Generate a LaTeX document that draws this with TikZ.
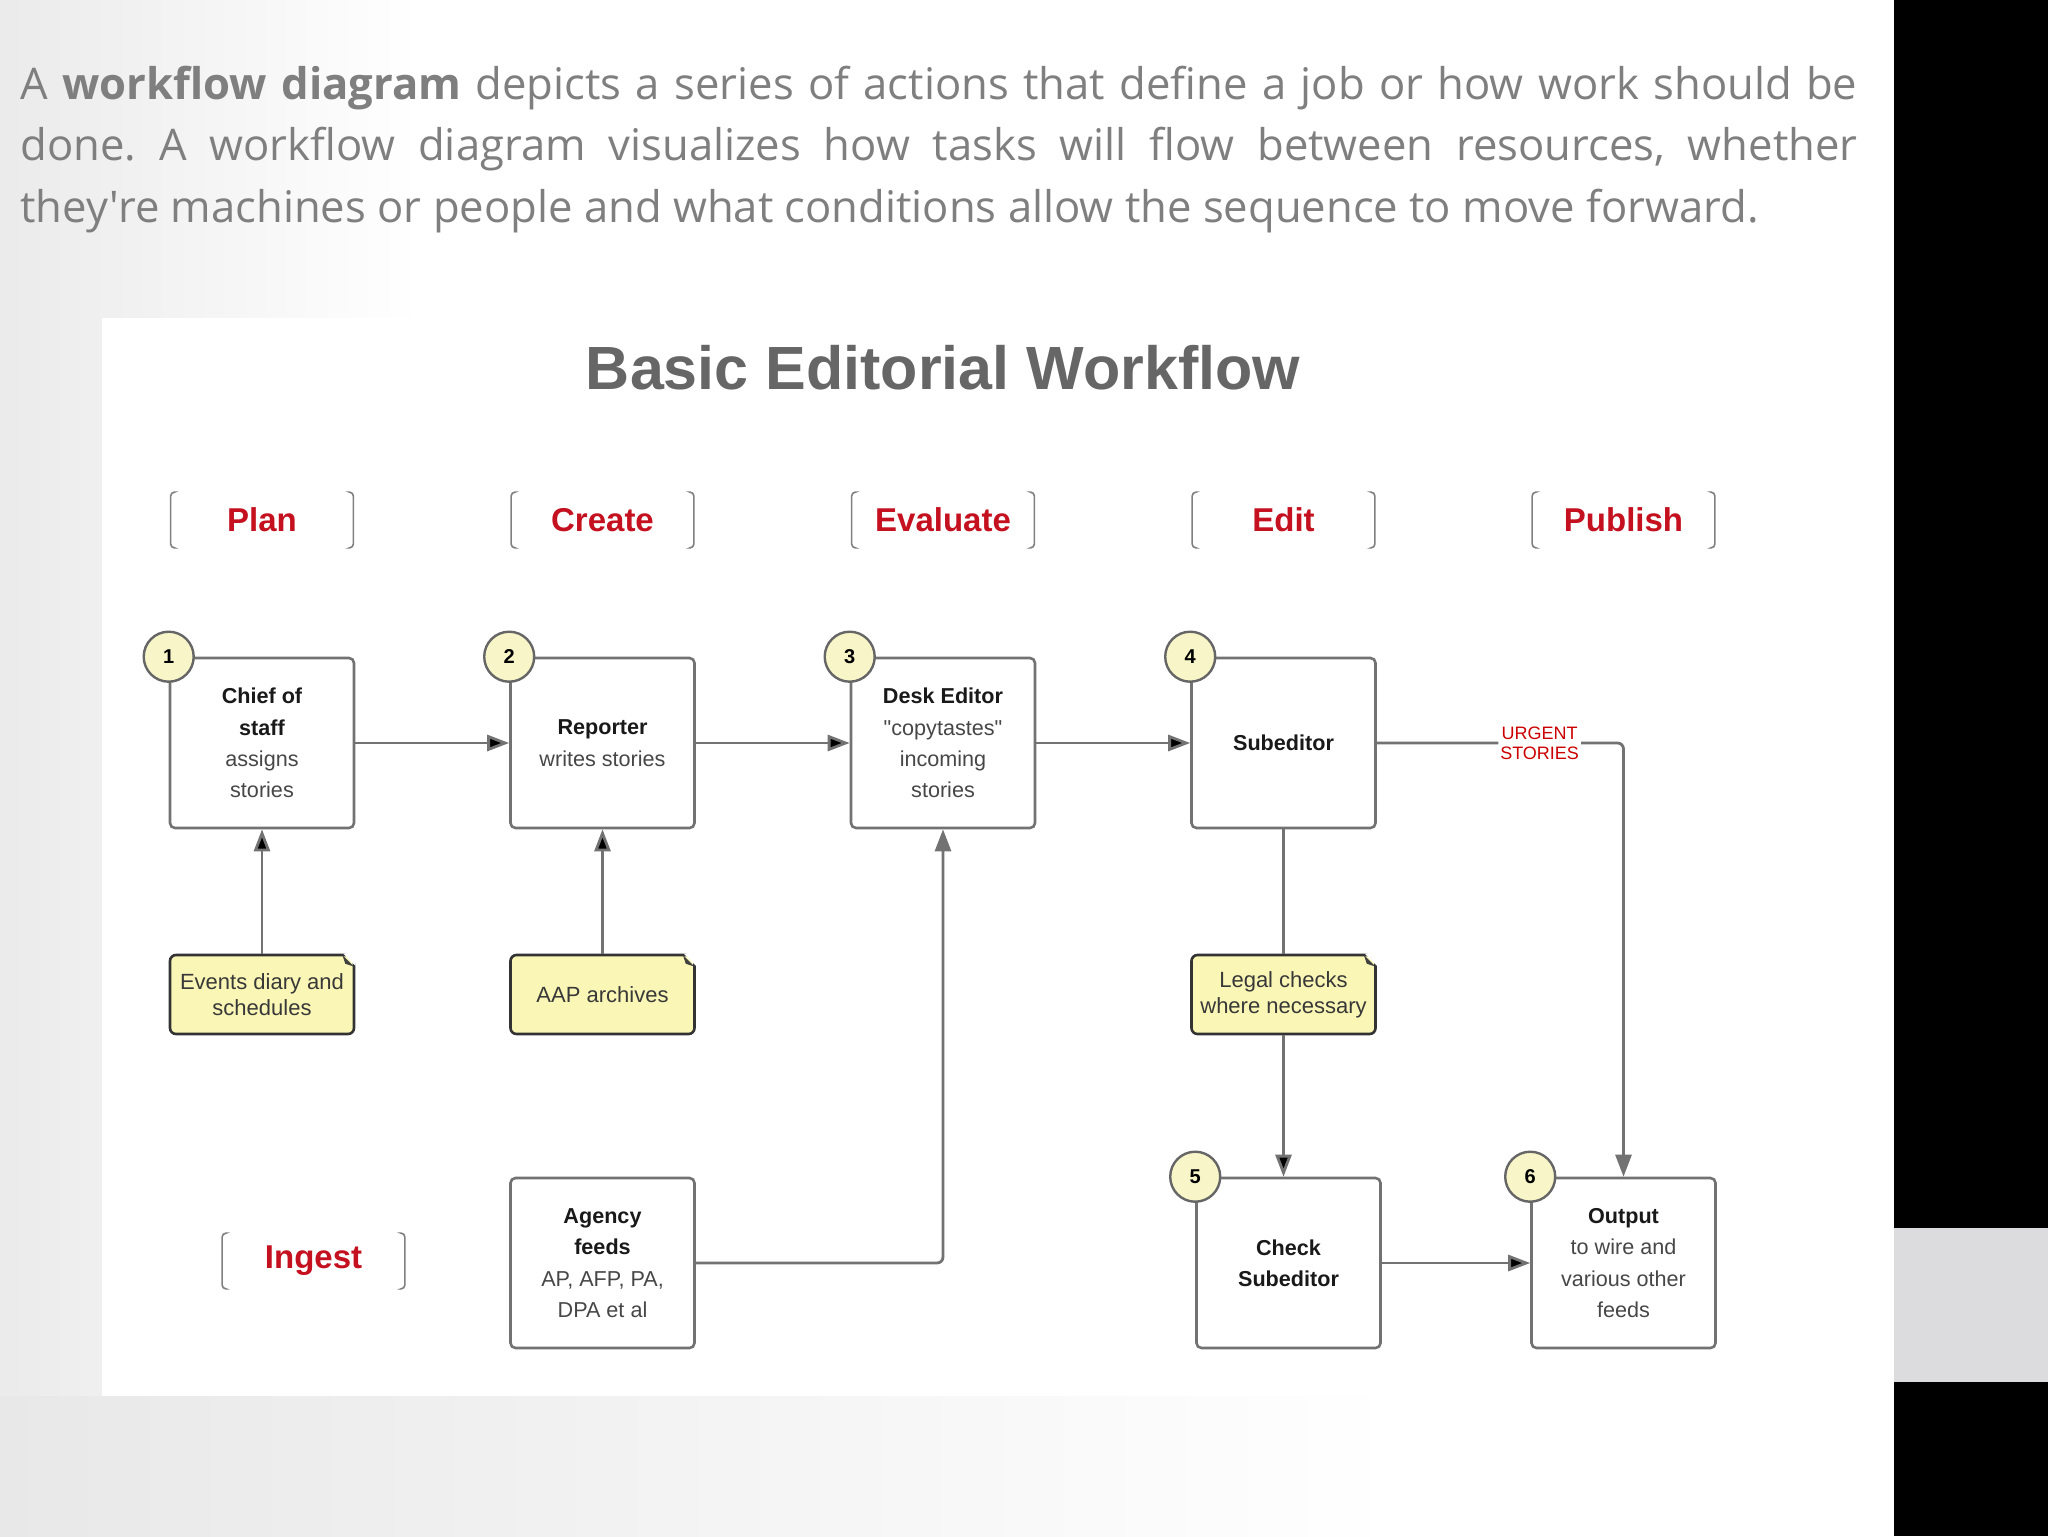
\documentclass[tikz,border=0pt]{standalone}
\usepackage{fontspec}
\setmainfont{Liberation Sans}
\newfontfamily\slidefont{Open Sans}
\usepackage{tikz}
\usetikzlibrary{arrows.meta,positioning}
\definecolor{linegray}{HTML}{727272}
\definecolor{phasered}{HTML}{C4101F}
\definecolor{noteyellow}{HTML}{FAF7B6}
\definecolor{numyellow}{HTML}{F8F6C8}
\definecolor{slidegray}{HTML}{7F7F7F}
\definecolor{bargray}{HTML}{DCDBDD}
\newcommand{\hd}[1]{{\bfseries\color{black!90}#1}}
\newcommand{\dq}{\XeTeXglyph\XeTeXcharglyph"22\relax}

\begin{document}
\begin{tikzpicture}[x=0.5pt,y=-0.5pt,->,>={Triangle[length=11pt,width=8pt]},
		node distance=170.25pt,
		task box/.style={rectangle,draw=linegray,line width=1.3pt,fill=white,rounded corners=2.5pt,
			minimum width=92pt,minimum height=85pt,align=center,text=black!72,
			font=\fontsize{10.8}{15.7}\selectfont},
		note box/.style={rectangle,draw=black!80,line width=1.3pt,fill=noteyellow,rounded corners=3pt,
			minimum width=92pt,minimum height=39.5pt,align=center,text=black!78,
			font=\fontsize{11}{13}\selectfont},
		num/.style={circle,draw=black!60,line width=1.2pt,fill=numyellow,minimum size=25pt,inner sep=0pt,
			font=\fontsize{10}{12}\selectfont\bfseries},
		phase/.style={minimum width=92pt,minimum height=27.5pt,inner sep=0pt,text=phasered,
			font=\fontsize{16.5}{18}\selectfont\bfseries},
		bracket/.style={-,draw=black!50,line width=0.8pt,rounded corners=2pt},
		flow/.style={draw=linegray,line width=1.4pt,rounded corners=3pt},
		urgent/.style={fill=white,text=red!80!black,align=center,inner sep=1pt,
			font=\fontsize{9}{9.8}\selectfont}]

	\useasboundingbox (0,0) rectangle (2048,1536);
	% slide
	\fill[-,white] (0,0) rectangle (2048,1536);
	\shade[-,left color=black!8,right color=white] (0,0) rectangle (420,1396);
	\shade[-,left color=black!9,right color=white] (0,1396) rectangle (1400,1536);
	\fill[-,white] (102,318) rectangle (1894,1396);
	\fill[-,black] (1894,0) rectangle (2048,1536);
	\fill[-,bargray] (1894,1228) rectangle (2048,1382);

	\node[anchor=base west,inner sep=0pt,text width=918.5pt,align=justify,text=slidegray,
		font=\slidefont\fontsize{21.8}{30.75}\selectfont\frenchspacing] (intro) at (20,99)
		{A \textbf{workflow diagram} depicts a series of actions that define a job or how work should be\linebreak done. A workflow diagram visualizes how tasks will flow between resources, whether\linebreak they're machines or people and what conditions allow the sequence to move forward.};

	% main row
	\node[task box] (chief) at (262,743) {\hd{Chief of}\\\hd{staff}\\assigns\\stories};
	\node[task box] (reporter) [right of=chief] {\hd{Reporter}\\writes stories};
	\node[task box] (desk) [right of=reporter] {\hd{Desk Editor}\\\dq copytastes\dq\\incoming\\stories};
	\node[task box] (subed) [right of=desk] {\hd{Subeditor}};

	\node[note box] (diary) [below of=chief,node distance=125.75pt] {Events diary and\\schedules};
	\node[note box] (archives) [below of=reporter,node distance=125.75pt] {AAP archives};
	\node[note box] (legal) [below of=subed,node distance=125.75pt] {Legal checks\\where necessary};

	\node[task box] (agency) [below of=reporter,node distance=260pt] {\hd{Agency}\\\hd{feeds}\\AP, AFP, PA,\\DPA et al};
	\node[task box] (checksub) [below of=subed,node distance=260pt,xshift=2.5pt] {\hd{Check}\\\hd{Subeditor}};
	\node[task box] (output) [right of=checksub,node distance=167.5pt] {\hd{Output}\\to wire and\\various other\\feeds};

	% dog ears
	\foreach \n in {diary,archives,legal}{
		\fill[-,white] ([xshift=-6pt]\n.north east) -- ([xshift=1pt,yshift=1pt]\n.north east) -- ([yshift=-6pt]\n.north east) -- cycle;
		\fill[-,black!75] ([xshift=-6.5pt,yshift=-0.6pt]\n.north east) -- ([xshift=-0.6pt,yshift=-6.5pt]\n.north east) -- ([xshift=-5pt,yshift=-5pt]\n.north east) -- cycle;
	}

	\node[num] (n1) at (chief.north west) {1};
	\node[num] (n2) at (reporter.north west) {2};
	\node[num] (n3) at (desk.north west) {3};
	\node[num] (n4) at (subed.north west) {4};
	\node[num] (n5) at (checksub.north west) {5};
	\node[num] (n6) at (output.north west) {6};

	% phases
	\node[phase] (plan) [above of=chief,node distance=111.5pt] {Plan};
	\node[phase] (create) [above of=reporter,node distance=111.5pt] {Create};
	\node[phase] (evaluate) [above of=desk,node distance=111.5pt] {Evaluate};
	\node[phase] (edit) [above of=subed,node distance=111.5pt] {Edit};
	\node[phase] (publish) [above of=output,node distance=371.5pt] {Publish};
	\node[phase] (ingest) [left of=agency,node distance=144.5pt,yshift=1pt] {Ingest};
	\foreach \n in {plan,create,evaluate,edit,publish,ingest}{
		\draw[bracket] ([xshift=2pt]\n.north west) -- ([xshift=0.5pt]\n.north west) -- ([xshift=0.5pt]\n.south west) -- ++(1.5pt,0);
		\draw[bracket] ([xshift=-2pt]\n.north east) -- ([xshift=-0.5pt]\n.north east) -- ([xshift=-0.5pt]\n.south east) -- ++(-1.5pt,0);
	}

	\node[text=black!60,font=\fontsize{30.5}{34}\selectfont\bfseries] (title) [above of=evaluate,node distance=76pt] {Basic Editorial Workflow};

	% connectors
	\path[flow]
		(chief) edge (reporter)
		(reporter) edge (desk)
		(desk) edge (subed)
		(diary) edge (chief)
		(archives) edge (reporter)
		(legal) edge (legal.south |- checksub.north)
		(checksub) edge (output);
	\draw[flow,-] (subed) -- (legal);
	\draw[flow] (agency.east) -| (desk.south);
	\draw[flow] (subed.east) -| node[urgent,pos=0.33] {URGENT\\STORIES} (output.north);

\end{tikzpicture}
\end{document}
